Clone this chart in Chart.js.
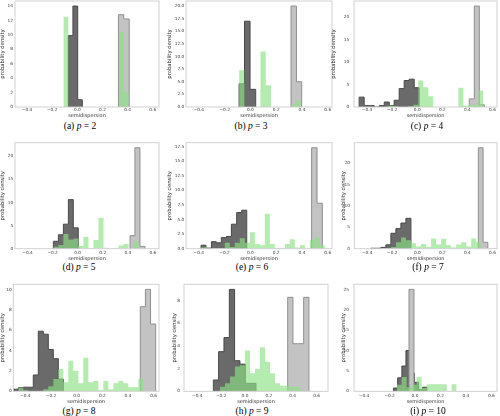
<!DOCTYPE html>
<html><head><meta charset="utf-8">
<script src="https://cdn.jsdelivr.net/npm/chart.js@4"></script>
<style>
html,body{margin:0;padding:0;background:#fff;width:500px;height:416px;overflow:hidden;position:relative}
.box{position:absolute}
.cap{position:absolute;font-family:"Liberation Serif","DejaVu Serif",serif;font-size:9.5px;color:#000;white-space:nowrap;transform:translate(-50%,-50%);line-height:1}
.cap i{font-style:italic}
</style></head><body>
<script>
// ---------- data ----------
const panelLetters = ['a','b','c','d','e','f','g','h','i'];
const pValues = [2,3,4,5,6,7,8,9,10];
const xTickValues = [-0.4,-0.2,0.0,0.2,0.4,0.6];
const yTickSteps = [2,2.5,5,5,2.5,5,2,2,5];
const yTickDecimals = [0,1,0,0,1,0,0,0,0];
const xLimits = [[-0.496,0.65],[-0.5,0.633],[-0.504,0.636],[-0.5,0.649],[-0.499,0.633],[-0.503,0.636],[-0.494,0.642],[-0.511,0.696],[-0.479,0.644]];

// (a) p = 2
const aDarkEdges = [-0.072,-0.035,0.003,0.040];
const aDarkDens = [9.9,14.0,1.0];
const aLightEdges = [0.327,0.370,0.413];
const aLightDens = [12.8,12.2];
const aGreenEdges = [-0.111,-0.072,0.332,0.371,0.410];
const aGreenDens = [12.5,0,10.4,2.1];
// (b) p = 3
const bDarkEdges = [-0.088,-0.046,-0.003,0.041];
const bDarkDens = [4.6,17.0,3.5];
const bLightEdges = [0.315,0.357,0.398];
const bLightDens = [20.0,5.0];
const bGreenEdges = [-0.088,-0.047,0.078,0.119,0.160,0.315,0.352,0.390];
const bGreenDens = [7.3,0,11.0,4.3,0,0.5,1.3];
// (c) p = 4
const cDarkEdges = [-0.463,-0.423,-0.383,-0.343,-0.303,-0.263,-0.223,-0.184,-0.144,-0.104,-0.064,-0.024,0.016];
const cDarkDens = [2.2,0.3,0.3,0,0.3,1.1,0.3,1.5,4.1,5.9,6.2,4.3];
const cLightEdges = [0.415,0.455,0.495,0.535];
const cLightDens = [1.8,22.5,0.5];
const cGreenEdges = [-0.232,-0.192,-0.152,-0.072,-0.032,0.008,0.048,0.088,0.128,0.328,0.368,0.408,0.448,0.488,0.528];
const cGreenDens = [0.3,0.2,0,0.2,0.5,5.9,4.4,2.4,0,4.3,0.3,0.5,0.5,3.7];
// (d) p = 5
const dDarkEdges = [-0.194,-0.154,-0.114,-0.074,-0.035,0.005];
const dDarkDens = [1.6,3.0,5.3,10.6,4.5];
const dLightEdges = [0.418,0.457,0.497,0.537];
const dLightDens = [2.8,21.8,0.5];
const dGreenEdges = [-0.194,-0.154,-0.114,-0.074,-0.034,0.006,0.046,0.086,0.126,0.166,0.206,0.246,0.286,0.326,0.366,0.406,0.446,0.486];
const dGreenDens = [0.4,0.8,3.2,2.0,2.2,0.6,2.5,0,1.9,6.7,0.2,0,0,0.7,1.0,0,1.6];
// (e) p = 6
const eDarkEdges = [-0.382,-0.344,-0.302,-0.264,-0.225,-0.186,-0.147,-0.106,-0.067,-0.028];
const eDarkDens = [0.6,0.1,1.2,1.0,1.9,2.1,4.2,6.2,6.6];
const eLightEdges = [0.475,0.517,0.558];
const eLightDens = [17.3,7.8];
const eGreenEdges = [-0.392,-0.353,-0.315,-0.276,-0.237,-0.198,-0.159,-0.121,-0.082,-0.043,-0.004,0.035,0.074,0.112,0.151,0.190,0.229,0.268,0.306,0.345,0.384,0.423,0.461,0.500,0.539,0.578];
const eGreenDens = [0.2,0.3,0,0,0,1.0,0.3,1.0,1.8,1.0,2.8,0.8,0.6,6.0,0.8,0.1,0.1,0.8,1.6,0.2,0.6,0,1.5,2.0,0.6];
// (f) p = 7
const fDarkEdges = [-0.371,-0.331,-0.291,-0.251,-0.211,-0.171,-0.131,-0.091,-0.051];
const fDarkDens = [0.1,0.1,0.3,0.9,3.6,4.7,6.0,7.1];
const fLightEdges = [0.487,0.525,0.563];
const fLightDens = [23.6,1.5];
const fGreenEdges = [-0.21,-0.17,-0.13,-0.09,-0.05,-0.01,0.03,0.07,0.11,0.15,0.19,0.23,0.27,0.31,0.35,0.39,0.43,0.47,0.51];
const fGreenDens = [0.4,1.5,2.6,2.0,1.3,0.5,1.1,0.4,2.4,1.0,2.3,0.8,0.3,1.0,1.5,0.5,2.4,1.5];
// (g) p = 8
const gDarkEdges = [-0.494,-0.455,-0.416,-0.377,-0.338,-0.299,-0.260,-0.221,-0.182,-0.143,-0.104];
const gDarkDens = [0.2,0.35,0.4,0.4,1.6,5.9,5.6,4.1,3.2,1.2];
const gLightEdges = [0.496,0.536,0.576,0.616];
const gLightDens = [8.3,10.0,6.6];
const gGreenEdges = [-0.455,-0.416,-0.377,-0.338,-0.299,-0.260,-0.221,-0.182,-0.143,-0.104,-0.065,-0.026,0.013,0.052,0.091,0.130,0.169,0.208,0.247,0.286,0.325,0.364,0.403,0.442,0.481,0.520];
const gGreenDens = [0.35,0.1,0,0,0,0.2,0.5,1.2,2.2,0.9,3.0,2.0,0.8,3.3,0.9,1.0,0.1,1.0,0.2,0.8,1.0,0.8,0.4,0.4,1.2];
// (h) p = 9
const hDarkEdges = [-0.265,-0.221,-0.176,-0.131,-0.087,-0.042,0.003,0.047,0.092];
const hDarkDens = [1.0,3.5,4.75,9.0,2.7,2.4,0.7,0.7];
const hLightEdges = [0.358,0.402,0.447,0.492,0.536];
const hLightDens = [8.3,4.2,4.2,8.3];
const hGreenEdges = [-0.210,-0.168,-0.126,-0.084,-0.042,0.000,0.042,0.084,0.126,0.168,0.210,0.252,0.294,0.336,0.378,0.420,0.462,0.504];
const hGreenDens = [0.4,0.7,1.3,2.2,2.3,3.6,1.6,2.0,3.9,2.6,1.6,0.7,0.5,0.5,0.4,0.4,0.1];
// (i) p = 10
const iDarkEdges = [-0.169,-0.136,-0.103,-0.071,-0.038,-0.005,0.028,0.060,0.093];
const iDarkDens = [0.8,3.3,6.2,10.0,4.5,2.2,0.4,1.0];
const iLightEdges = [-0.047,-0.008];
const iLightDens = [25.0];
const iGreenEdges = [-0.144,-0.105,-0.065,-0.026,0.013,0.052,0.092,0.131,0.170,0.209,0.249,0.288,0.327];
const iGreenDens = [1.6,3.5,1.0,1.6,3.5,0.8,1.7,1.7,1.7,1.7,0,1.7];

const darkEdges = [aDarkEdges,bDarkEdges,cDarkEdges,dDarkEdges,eDarkEdges,fDarkEdges,gDarkEdges,hDarkEdges,iDarkEdges];
const darkDens = [aDarkDens,bDarkDens,cDarkDens,dDarkDens,eDarkDens,fDarkDens,gDarkDens,hDarkDens,iDarkDens];
const lightEdges = [aLightEdges,bLightEdges,cLightEdges,dLightEdges,eLightEdges,fLightEdges,gLightEdges,hLightEdges,iLightEdges];
const lightDens = [aLightDens,bLightDens,cLightDens,dLightDens,eLightDens,fLightDens,gLightDens,hLightDens,iLightDens];
const greenEdges = [aGreenEdges,bGreenEdges,cGreenEdges,dGreenEdges,eGreenEdges,fGreenEdges,gGreenEdges,hGreenEdges,iGreenEdges];
const greenDens = [aGreenDens,bGreenDens,cGreenDens,dGreenDens,eGreenDens,fGreenDens,gGreenDens,hGreenDens,iGreenDens];

// ---------- layout (pixels) ----------
// [plotLeft, plotTop, plotRight, plotBottom, yAxisWidth, xAxisHeight, yTickPad, xTickPad, captionX, captionY]
const boxes = [
  [15,1,159,107,15.5,12,2,0.5,80,127],
  [186,1,332,107,19.2,12,1.7,0.5,251,127],
  [354,1,497,107,23.9,12,4.7,0.5,427,127],
  [15,142.7,159,248.7,15.5,12.6,1.7,1.5,79,267.7],
  [186,142.7,332,248.7,19.2,12.6,1.7,1.5,252,267.7],
  [354.3,142.7,497,248.7,14.2,12.6,4.3,1.5,428,267.7],
  [13.3,284.3,159,391.3,13.8,13,1.6,2,79,412],
  [184,284.3,328,391.3,12.2,13,4,2,252,412],
  [354,284.3,497,391.3,13.9,13,5,2,428,412]
];

const FONT = '"DejaVu Sans", sans-serif';
const GREEN = 'rgba(140,225,130,0.65)';

function histPoints(edges, dens) {
  const pts = [{x: edges[0], y: 0}];
  for (let i = 0; i < dens.length; i++) pts.push({x: edges[i], y: dens[i]});
  pts.push({x: edges[edges.length - 1], y: 0});
  return pts;
}
function fmtX(v) {
  const s = Math.abs(v).toFixed(1);
  return v < -1e-9 ? '\u2212' + s : s;
}

const framePlugin = {
  id: 'frame',
  afterDraw(chart) {
    const a = chart.chartArea, ctx = chart.ctx;
    ctx.save();
    ctx.strokeStyle = '#cccccc';
    ctx.lineWidth = 0.9;
    ctx.strokeRect(a.left, a.top, a.right - a.left, a.bottom - a.top);
    ctx.restore();
  }
};

for (let k = 0; k < 9; k++) {
  const [L, T, R, B, yW, xH, yPad, xPad, capX, capY] = boxes[k];
  const cLeft = Math.floor(L - yW);
  const cTop = Math.floor(T - 2);
  const cW = Math.ceil(R + 2 - cLeft);
  const cH = Math.ceil(B + xH - cTop);
  const div = document.createElement('div');
  div.className = 'box';
  div.style.left = cLeft + 'px'; div.style.top = cTop + 'px';
  div.style.width = cW + 'px'; div.style.height = cH + 'px';
  const cv = document.createElement('canvas');
  div.appendChild(cv);
  document.body.appendChild(div);

  const yAxisW = L - cLeft, xAxisH = cTop + cH - B;
  const allH = darkDens[k].concat(lightDens[k], greenDens[k]);
  const yMax = 1.05 * Math.max.apply(null, allH);
  const dec = yTickDecimals[k];

  new Chart(cv, {
    type: 'line',
    data: {
      datasets: [
        {data: histPoints(greenEdges[k], greenDens[k]), backgroundColor: GREEN, borderColor: 'rgba(0,0,0,0)', borderWidth: 0, fill: 'origin'},
        {data: histPoints(lightEdges[k], lightDens[k]), backgroundColor: '#c3c3c3', borderColor: '#8e8e8e', borderWidth: 1, fill: 'origin'},
        {data: histPoints(darkEdges[k], darkDens[k]), backgroundColor: '#6a6a6a', borderColor: '#484848', borderWidth: 1, fill: 'origin'}
      ]
    },
    options: {
      responsive: true, maintainAspectRatio: false, animation: false,
      events: [],
      layout: {padding: {left: 0, top: T - cTop, right: cLeft + cW - R, bottom: 0}},
      elements: {line: {stepped: 'before', tension: 0}, point: {radius: 0, hoverRadius: 0}},
      plugins: {legend: {display: false}, tooltip: {enabled: false}},
      scales: {
        x: {
          type: 'linear', min: xLimits[k][0], max: xLimits[k][1],
          grid: {display: false, drawTicks: false}, border: {display: false},
          ticks: {stepSize: 0.2, includeBounds: false, autoSkip: false, maxRotation: 0, padding: xPad,
                  font: {family: FONT, size: 4.3}, color: '#3c3c3c', callback: v => fmtX(v)},
          afterBuildTicks: s => { s.ticks = xTickValues.filter(v => v >= s.min && v <= s.max).map(v => ({value: v})); },
          title: {display: true, text: 'semidispersion', font: {family: FONT, size: 5}, color: '#333', padding: 0},
          afterFit: s => { s.height = xAxisH; s.paddingLeft = 0; s.paddingRight = 0; }
        },
        y: {
          min: 0, max: yMax,
          grid: {display: false, drawTicks: false}, border: {display: false},
          ticks: {stepSize: yTickSteps[k], includeBounds: false, autoSkip: false, padding: yPad,
                  font: {family: FONT, size: 4.3}, color: '#3c3c3c', callback: v => v.toFixed(dec)},
          title: {display: true, text: 'probability density', font: {family: FONT, size: 5.3}, color: '#333', padding: 0},
          afterFit: s => { s.width = yAxisW; s.paddingTop = 0; s.paddingBottom = 0; }
        }
      }
    },
    plugins: [framePlugin]
  });

  const cap = document.createElement('div');
  cap.className = 'cap';
  cap.style.left = capX + 'px'; cap.style.top = capY + 'px';
  cap.innerHTML = '(' + panelLetters[k] + ') <i>p</i> = ' + pValues[k];
  document.body.appendChild(cap);
}
</script>
</body></html>
